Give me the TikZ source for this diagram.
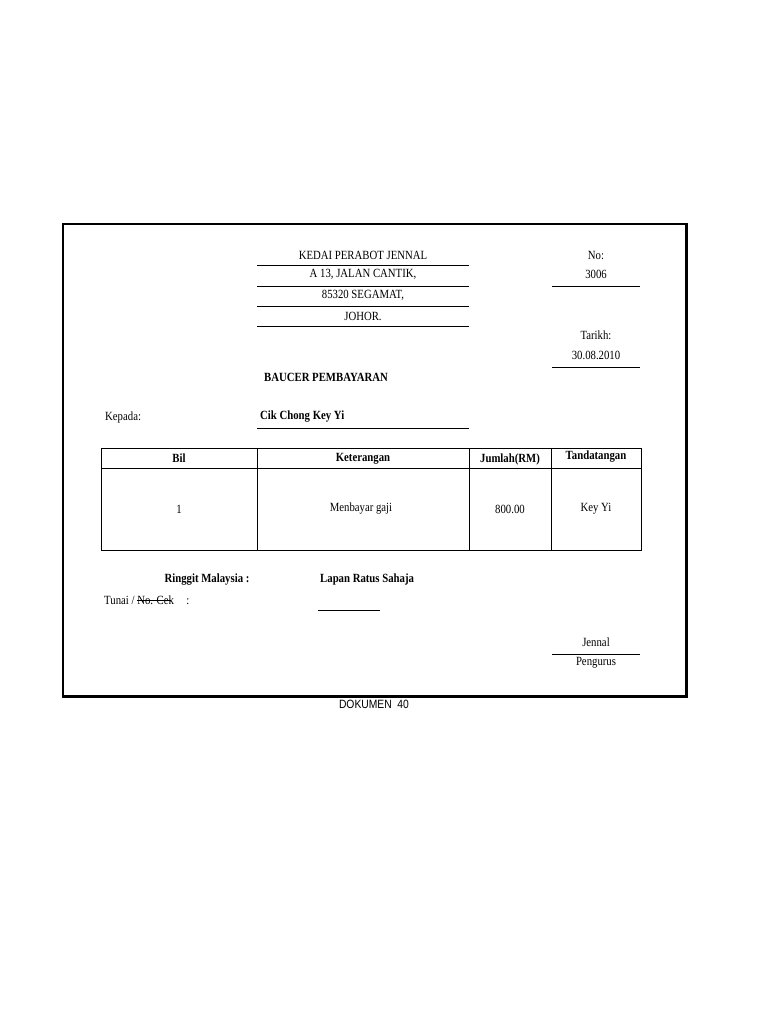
\documentclass[tikz,border=0pt]{standalone}
\usepackage{fontspec}
\setmainfont{Liberation Serif}[FakeStretch=0.86]
\newfontfamily\dokfont{Liberation Sans}[FakeStretch=0.86]
\begin{document}
\begin{tikzpicture}[x=1pt,y=-1pt,
  t/.style={inner sep=0pt,font=\fontsize{12.5}{14}\selectfont},
  tb/.style={t,font=\fontsize{12.5}{14}\selectfont\bfseries},
  ln/.style={line width=0.8pt}]
\useasboundingbox (0,0) rectangle (768,1024);
\draw[line width=1.4pt] (63,696) -- (63,224) -- (686,224);
\draw[line width=3pt] (686,223) -- (686,696) -- (62,696);
% header
\node[t] (h1) at (363,255) {KEDAI PERABOT JENNAL};
\node[t] (h2) at (363,274) {A 13, JALAN CANTIK,};
\node[t] (h3) at (363,295) {85320 SEGAMAT,};
\node[t] (h4) at (363,316) {JOHOR.};
\foreach \y in {265,286,306,326} \draw[ln] (257,\y) -- (469,\y);
\node[t] (no) at (596,255) {No:};
\node[t] (nov) at (596,274) {3006};
\draw[ln] (552,286) -- (640,286);
\node[t] (tk) at (596,335) {Tarikh:};
\node[t] (tkv) at (596,355) {30.08.2010};
\draw[ln] (552,367) -- (640,367);
\node[tb] (title) at (326,377) {BAUCER PEMBAYARAN};
\node[t,anchor=west] (kp) at (105,417) {Kepada:};
\node[tb,anchor=west] (kpv) at (260,417) {Cik Chong Key Yi};
\draw[ln] (257,428) -- (469,428);
% table
\draw[ln] (101,448) rectangle (641,550);
\draw[ln] (101,468) -- (641,468);
\foreach \x in {257,469,551} \draw[ln] (\x,448) -- (\x,550);
\node[tb] (c1) at (179,458) {Bil};
\node[tb] (c2) at (363,459) {Keterangan};
\node[tb] (c3) at (510,459) {Jumlah(RM)};
\node[tb] (c4) at (596,457) {Tandatangan};
\node[t] (r1) at (179,509) {1};
\node[t] (r2) at (361,509) {Menbayar gaji};
\node[t] (r3) at (510,509) {800.00};
\node[t] (r4) at (596,509) {Key Yi};
% bottom
\node[tb] (rm) at (207,580) {Ringgit Malaysia :};
\node[tb,anchor=west] (rmv) at (320,579) {Lapan Ratus Sahaja};
\node[t,anchor=west] (tn) at (104,600) {Tunai / \smash{\rlap{\rule[0.3em]{2.7em}{0.5pt}}}No. Cek\quad:};
\draw[ln] (318,610) -- (380,610);
\node[t] (jn) at (596,642) {Jennal};
\draw[ln] (552,654) -- (640,654);
\node[t] (pg) at (596,663) {Pengurus};
\node[t,font=\fontsize{12}{14}\selectfont\dokfont] (dk) at (374,704) {DOKUMEN\ \ 40};
\end{tikzpicture}
\end{document}
